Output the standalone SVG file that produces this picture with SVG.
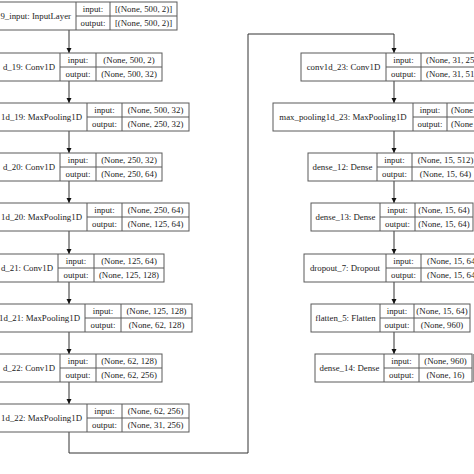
<svg xmlns="http://www.w3.org/2000/svg" width="474" height="474" viewBox="0 0 474 474">
<style>
rect.c{fill:#fff;stroke:#5a5a5a;stroke-width:1}
line.d{stroke:#5a5a5a;stroke-width:1}
text{font-family:"Liberation Serif","Times New Roman",serif;font-size:8.8px;fill:#222}
.m{text-anchor:middle}
.e{text-anchor:end}
.s{text-anchor:start}
.w{fill:none;stroke:#333;stroke-width:1}
</style>
<defs>
<marker id="ah" viewBox="0 0 10 10" refX="10" refY="5" markerWidth="5" markerHeight="6" markerUnits="userSpaceOnUse" orient="auto">
<path d="M0,0 L10,5 L0,10 z" fill="#111"/>
</marker>
</defs>
<rect width="474" height="474" fill="#fff"/>

<g id="connectors">
<path class="w" d="M69,30 V53" marker-end="url(#ah)"/>
<path class="w" d="M69,81 V103" marker-end="url(#ah)"/>
<path class="w" d="M69,131 V153" marker-end="url(#ah)"/>
<path class="w" d="M69,181 V203" marker-end="url(#ah)"/>
<path class="w" d="M69,231 V254" marker-end="url(#ah)"/>
<path class="w" d="M69,282 V304" marker-end="url(#ah)"/>
<path class="w" d="M69,332 V354" marker-end="url(#ah)"/>
<path class="w" d="M69,382 V404" marker-end="url(#ah)"/>
<path class="w" d="M69,432 V453 H248 V34 H394 V53" marker-end="url(#ah)"/>
<path class="w" d="M394,81 V103" marker-end="url(#ah)"/>
<path class="w" d="M394,131 V153" marker-end="url(#ah)"/>
<path class="w" d="M394,181 V203" marker-end="url(#ah)"/>
<path class="w" d="M394,231 V254" marker-end="url(#ah)"/>
<path class="w" d="M394,282 V304" marker-end="url(#ah)"/>
<path class="w" d="M394,332 V354" marker-end="url(#ah)"/>
</g>

<g id="input_layer">
<rect class="c" x="-39" y="2" width="216" height="28"/>
<line class="d" x1="76" y1="2" x2="76" y2="30"/>
<line class="d" x1="110" y1="2" x2="110" y2="30"/>
<line class="d" x1="76" y1="16" x2="177" y2="16"/>
<text class="e" x="71" y="19">9_input: InputLayer</text>
<text class="m" x="93" y="12">input:</text>
<text class="m" x="93" y="26">output:</text>
<text class="m" x="143.5" y="12">[(None, 500, 2)]</text>
<text class="m" x="143.5" y="26">[(None, 500, 2)]</text>
</g>

<g id="conv1d_19">
<rect class="c" x="-24" y="53" width="186" height="28"/>
<line class="d" x1="60" y1="53" x2="60" y2="81"/>
<line class="d" x1="96" y1="53" x2="96" y2="81"/>
<line class="d" x1="60" y1="67" x2="162" y2="67"/>
<text class="e" x="55" y="70">d_19: Conv1D</text>
<text class="m" x="78" y="63">input:</text>
<text class="m" x="78" y="77">output:</text>
<text class="m" x="129" y="63">(None, 500, 2)</text>
<text class="m" x="129" y="77">(None, 500, 32)</text>
</g>

<g id="max_pooling1d_19">
<rect class="c" x="-51" y="103" width="240" height="28"/>
<line class="d" x1="87" y1="103" x2="87" y2="131"/>
<line class="d" x1="122" y1="103" x2="122" y2="131"/>
<line class="d" x1="87" y1="117" x2="189" y2="117"/>
<text class="e" x="82" y="120">1d_19: MaxPooling1D</text>
<text class="m" x="104.5" y="113">input:</text>
<text class="m" x="104.5" y="127">output:</text>
<text class="m" x="155.5" y="113">(None, 500, 32)</text>
<text class="m" x="155.5" y="127">(None, 250, 32)</text>
</g>

<g id="conv1d_20">
<rect class="c" x="-24" y="153" width="186" height="28"/>
<line class="d" x1="60" y1="153" x2="60" y2="181"/>
<line class="d" x1="96" y1="153" x2="96" y2="181"/>
<line class="d" x1="60" y1="167" x2="162" y2="167"/>
<text class="e" x="55" y="170">d_20: Conv1D</text>
<text class="m" x="78" y="163">input:</text>
<text class="m" x="78" y="177">output:</text>
<text class="m" x="129" y="163">(None, 250, 32)</text>
<text class="m" x="129" y="177">(None, 250, 64)</text>
</g>

<g id="max_pooling1d_20">
<rect class="c" x="-51" y="203" width="240" height="28"/>
<line class="d" x1="87" y1="203" x2="87" y2="231"/>
<line class="d" x1="122" y1="203" x2="122" y2="231"/>
<line class="d" x1="87" y1="217" x2="189" y2="217"/>
<text class="e" x="82" y="220">1d_20: MaxPooling1D</text>
<text class="m" x="104.5" y="213">input:</text>
<text class="m" x="104.5" y="227">output:</text>
<text class="m" x="155.5" y="213">(None, 250, 64)</text>
<text class="m" x="155.5" y="227">(None, 125, 64)</text>
</g>

<g id="conv1d_21">
<rect class="c" x="-26" y="254" width="190" height="28"/>
<line class="d" x1="58" y1="254" x2="58" y2="282"/>
<line class="d" x1="94" y1="254" x2="94" y2="282"/>
<line class="d" x1="58" y1="268" x2="164" y2="268"/>
<text class="e" x="53" y="271">d_21: Conv1D</text>
<text class="m" x="76" y="264">input:</text>
<text class="m" x="76" y="278">output:</text>
<text class="m" x="129" y="264">(None, 125, 64)</text>
<text class="m" x="129" y="278">(None, 125, 128)</text>
</g>

<g id="max_pooling1d_21">
<rect class="c" x="-54" y="304" width="246" height="28"/>
<line class="d" x1="85" y1="304" x2="85" y2="332"/>
<line class="d" x1="121" y1="304" x2="121" y2="332"/>
<line class="d" x1="85" y1="318" x2="192" y2="318"/>
<text class="e" x="80" y="321">1d_21: MaxPooling1D</text>
<text class="m" x="103" y="314">input:</text>
<text class="m" x="103" y="328">output:</text>
<text class="m" x="156.5" y="314">(None, 125, 128)</text>
<text class="m" x="156.5" y="328">(None, 62, 128)</text>
</g>

<g id="conv1d_22">
<rect class="c" x="-24" y="354" width="186" height="28"/>
<line class="d" x1="60" y1="354" x2="60" y2="382"/>
<line class="d" x1="96" y1="354" x2="96" y2="382"/>
<line class="d" x1="60" y1="368" x2="162" y2="368"/>
<text class="e" x="55" y="371">d_22: Conv1D</text>
<text class="m" x="78" y="364">input:</text>
<text class="m" x="78" y="378">output:</text>
<text class="m" x="129" y="364">(None, 62, 128)</text>
<text class="m" x="129" y="378">(None, 62, 256)</text>
</g>

<g id="max_pooling1d_22">
<rect class="c" x="-51" y="404" width="240" height="28"/>
<line class="d" x1="87" y1="404" x2="87" y2="432"/>
<line class="d" x1="122" y1="404" x2="122" y2="432"/>
<line class="d" x1="87" y1="418" x2="189" y2="418"/>
<text class="e" x="82" y="421">1d_22: MaxPooling1D</text>
<text class="m" x="104.5" y="414">input:</text>
<text class="m" x="104.5" y="428">output:</text>
<text class="m" x="155.5" y="414">(None, 62, 256)</text>
<text class="m" x="155.5" y="428">(None, 31, 256)</text>
</g>

<g id="conv1d_23">
<rect class="c" x="301" y="53" width="186" height="28"/>
<line class="d" x1="386" y1="53" x2="386" y2="81"/>
<line class="d" x1="421" y1="53" x2="421" y2="81"/>
<line class="d" x1="386" y1="67" x2="487" y2="67"/>
<text class="m" x="343.5" y="70">conv1d_23: Conv1D</text>
<text class="m" x="403.5" y="63">input:</text>
<text class="m" x="403.5" y="77">output:</text>
<text class="s" x="426" y="63">(None, 31, 25</text>
<text class="s" x="426" y="77">(None, 31, 51</text>
</g>

<g id="max_pooling1d_23">
<rect class="c" x="273" y="103" width="242" height="28"/>
<line class="d" x1="413" y1="103" x2="413" y2="131"/>
<line class="d" x1="447" y1="103" x2="447" y2="131"/>
<line class="d" x1="413" y1="117" x2="515" y2="117"/>
<text class="m" x="343" y="120">max_pooling1d_23: MaxPooling1D</text>
<text class="m" x="430" y="113">input:</text>
<text class="m" x="430" y="127">output:</text>
<text class="s" x="451" y="113">(None</text>
<text class="s" x="451" y="127">(None</text>
</g>

<g id="dense_12">
<rect class="c" x="308" y="153" width="172" height="28"/>
<line class="d" x1="377" y1="153" x2="377" y2="181"/>
<line class="d" x1="412" y1="153" x2="412" y2="181"/>
<line class="d" x1="377" y1="167" x2="480" y2="167"/>
<text class="m" x="342.5" y="170">dense_12: Dense</text>
<text class="m" x="394.5" y="163">input:</text>
<text class="m" x="394.5" y="177">output:</text>
<text class="m" x="445.5" y="163">(None, 15, 512)</text>
<text class="m" x="445.5" y="177">(None, 15, 64)</text>
</g>

<g id="dense_13">
<rect class="c" x="311" y="203" width="162" height="28"/>
<line class="d" x1="380" y1="203" x2="380" y2="231"/>
<line class="d" x1="415" y1="203" x2="415" y2="231"/>
<line class="d" x1="380" y1="217" x2="473" y2="217"/>
<text class="m" x="345.5" y="220">dense_13: Dense</text>
<text class="m" x="397.5" y="213">input:</text>
<text class="m" x="397.5" y="227">output:</text>
<text class="m" x="444" y="213">(None, 15, 64)</text>
<text class="m" x="444" y="227">(None, 15, 64)</text>
</g>

<g id="dropout_7">
<rect class="c" x="304" y="254" width="183" height="28"/>
<line class="d" x1="386" y1="254" x2="386" y2="282"/>
<line class="d" x1="421" y1="254" x2="421" y2="282"/>
<line class="d" x1="386" y1="268" x2="487" y2="268"/>
<text class="m" x="345" y="271">dropout_7: Dropout</text>
<text class="m" x="403.5" y="264">input:</text>
<text class="m" x="403.5" y="278">output:</text>
<text class="s" x="427" y="264">(None, 15, 64</text>
<text class="s" x="427" y="278">(None, 15, 64</text>
</g>

<g id="flatten_5">
<rect class="c" x="311" y="304" width="159" height="28"/>
<line class="d" x1="380" y1="304" x2="380" y2="332"/>
<line class="d" x1="414" y1="304" x2="414" y2="332"/>
<line class="d" x1="380" y1="318" x2="470" y2="318"/>
<text class="m" x="345.5" y="321">flatten_5: Flatten</text>
<text class="m" x="397" y="314">input:</text>
<text class="m" x="397" y="328">output:</text>
<text class="m" x="442" y="314">(None, 15, 64)</text>
<text class="m" x="442" y="328">(None, 960)</text>
</g>

<g id="dense_14">
<rect class="c" x="315" y="354" width="157" height="28"/>
<line class="d" x1="384" y1="354" x2="384" y2="382"/>
<line class="d" x1="419" y1="354" x2="419" y2="382"/>
<line class="d" x1="384" y1="368" x2="472" y2="368"/>
<text class="m" x="349.5" y="371">dense_14: Dense</text>
<text class="m" x="401.5" y="364">input:</text>
<text class="m" x="401.5" y="378">output:</text>
<text class="m" x="445.5" y="364">(None, 960)</text>
<text class="m" x="445.5" y="378">(None, 16)</text>
<rect x="472.5" y="354" width="1.5" height="28" fill="#999"/>
</g>
</svg>
